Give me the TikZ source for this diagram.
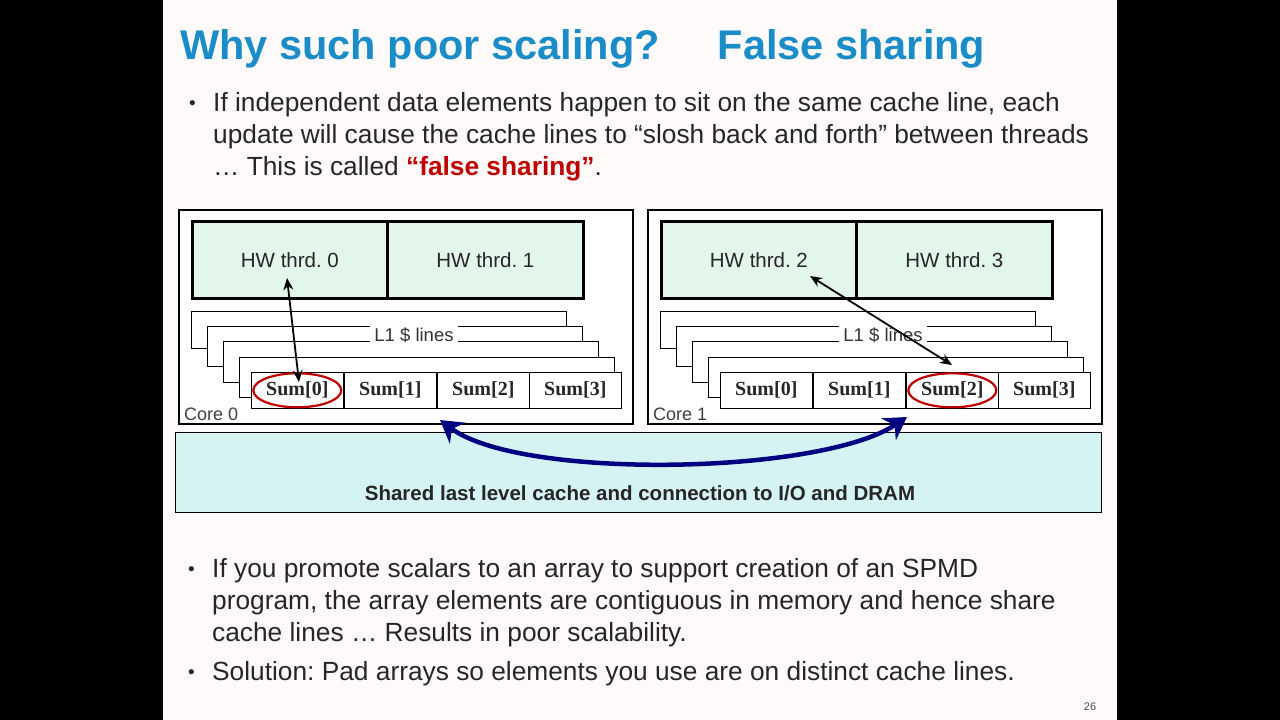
\documentclass[tikz,border=0pt]{standalone}
\usepackage{fontspec}
\setmainfont{Liberation Sans}
\newfontfamily\serifx{Liberation Serif}
\usetikzlibrary{arrows.meta}
\definecolor{hwfill}{HTML}{E2F6EC}
\definecolor{llcfill}{HTML}{D6F3F3}
\definecolor{ttl}{HTML}{1A8CC8}
\begin{document}
\frenchspacing
\begin{tikzpicture}[x=1pt,y=-1pt,
  hw/.style={draw,line width=2.8pt,fill=hwfill,minimum width=195pt,minimum height=77pt,font=\fontsize{20.5}{24}\selectfont,text=black!85},
  layer/.style={draw,fill=white,line width=0.8pt},
  cell/.style={draw,fill=white,line width=0.6pt,minimum width=92pt,minimum height=36pt,inner sep=0pt,font=\serifx\bfseries\fontsize{20}{22}\selectfont,text=black!85},
  redring/.style={draw=red!75!black,line width=2.2pt},
  blk/.style={{Stealth[length=12pt,width=10pt]}-{Stealth[length=12pt,width=10pt]},line width=1.8pt},
  body/.style={anchor=north west,align=left,font=\fontsize{26.3}{32}\selectfont,text=black!85,inner sep=0pt},
  bul/.style={anchor=base west,font=\fontsize{19}{32}\selectfont,text=black!85,inner sep=0pt}]
\fill[black] (0,0) rectangle (1280,720);
\fill[red!2] (163,0) rectangle (1117,720);
\node[anchor=west,inner sep=0pt,text=ttl,font=\bfseries\fontsize{41.5}{44}\selectfont] (title) at (180,49) {Why such poor scaling?\hspace{58pt}False sharing};
\node[bul] (d1) at (189,109) {•};
\node[body] (b1) at (213,92) {If independent data elements happen to sit on the same cache line, each\\update will cause the cache lines to “slosh back and forth” between threads\\… This is called \textcolor{red!75!black}{\bfseries “false sharing”}.};
% shared
\node[draw,line width=1.4pt,fill=llcfill,minimum width=926pt,minimum height=80pt,anchor=north west] (llc) at (175,432) {};
\node[font=\bfseries\fontsize{20.5}{22}\selectfont,text=black!85] (llct) at (640,493) {Shared last level cache and connection to I/O and DRAM};
% cores
\foreach \cx/\nm/\a/\b in {179/0/0/1,648/1/2/3}{
  \begin{scope}[shift={(\cx,0)}]
  \draw[line width=1.6pt,fill=white] (0,210) rectangle (454,424);
  \node[anchor=south west,inner sep=1pt,font=\fontsize{18}{20}\selectfont,text=black!75] (core\nm) at (4,422) {Core \nm};
  \node[hw,anchor=north west] (hwa\nm) at (12,220) {HW thrd. \a};
  \node[hw,anchor=north west,minimum width=196pt] (hwb\nm) at (207,220) {HW thrd. \b};
  \draw[layer] (12,311) rectangle (387,348);
  \draw[layer] (28,326) rectangle (403,366);
  \draw[layer] (44,341) rectangle (419,382);
  \draw[layer] (60,357) rectangle (435,397);
  \node[fill=white,inner sep=4pt,font=\fontsize{18.5}{20}\selectfont,text=black!80] (l1\nm) at (235,335) {L1 \$ lines};
  \foreach \i/\xx in {0/72,1/165,2/258,3/350}{
    \node[cell,anchor=north west] (s\nm\i) at (\xx,372) {Sum[\i]};
  }
  \end{scope}
}
\draw[redring] (s00.center) ellipse [x radius=44pt,y radius=17pt];
\draw[redring] (s12.center) ellipse [x radius=44pt,y radius=17pt];
\coordinate (p0) at (287,278);
\coordinate (q0) at (299,382);
\draw[blk] (p0) -- (q0);
\coordinate (p1) at (810,276);
\coordinate (q1) at (952,365);
\draw[blk] (p1) -- (q1);
\coordinate (u0) at (440,420);
\coordinate (u1) at (907,417);
\draw[{Stealth[length=22pt,width=26pt]}-{Stealth[length=22pt,width=26pt]},line width=4.5pt,draw=blue!50!black] (u0) .. controls (520,480) and (820,475) .. (u1);
\node[bul] (d2) at (188,575) {•};
\node[body] (b2) at (212,558) {If you promote scalars to an array to support creation of an SPMD\\program, the array elements are contiguous in memory and hence share\\cache lines … Results in poor scalability.};
\node[bul] (d3) at (188,678) {•};
\node[body] (b3) at (212,661) {Solution: Pad arrays so elements you use are on distinct cache lines.};
\node[font=\fontsize{11}{12}\selectfont,text=black!70] (pg) at (1090,707) {26};
\end{tikzpicture}
\end{document}
